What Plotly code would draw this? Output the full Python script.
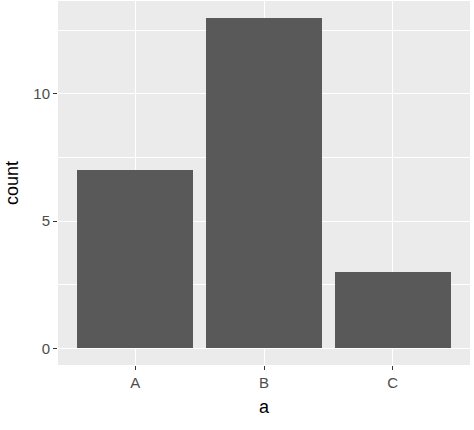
import plotly.graph_objects as go

categories = ["A", "B", "C"]
counts = [7, 13, 3]

fig = go.Figure()
fig.add_trace(go.Bar(
    x=categories,
    y=counts,
    width=0.9,
    marker=dict(color="#595959", line=dict(width=0)),
))

fig.update_layout(
    width=474,
    height=430,
    margin=dict(l=58, r=4, t=1, b=65),
    paper_bgcolor="white",
    plot_bgcolor="#EBEBEB",
    font=dict(family="Liberation Sans, Arial", color="#4D4D4D", size=15),
    showlegend=False,
    bargap=0,
)

fig.update_xaxes(
    type="category",
    range=[-0.6, 2.6],
    automargin=False,
    showgrid=True, gridcolor="white", gridwidth=1.1,
    ticks="outside", ticklen=4, tickwidth=1.1, tickcolor="#333333",
    tickfont=dict(size=15, color="#4D4D4D"),
    title=dict(text="a", font=dict(size=18, color="black"), standoff=10),
    zeroline=False, showline=False,
)

fig.update_yaxes(
    range=[-0.65, 13.65],
    tickvals=[0, 5, 10],
    automargin=False,
    showgrid=True, gridcolor="white", gridwidth=1.1,
    minor=dict(tickvals=[2.5, 7.5, 12.5], showgrid=True, gridcolor="white", gridwidth=0.55),
    ticks="outside", ticklen=4, tickwidth=1.1, tickcolor="#333333",
    tickfont=dict(size=15, color="#4D4D4D"),
    title=dict(text="count", font=dict(size=18, color="black"), standoff=10),
    zeroline=False, showline=False,
)

# the page has a default 8px body margin; drop it so the figure sits at 0,0
fig.write_html("out.html", config={"displayModeBar": False},
               post_script="document.body.style.margin='0';")
